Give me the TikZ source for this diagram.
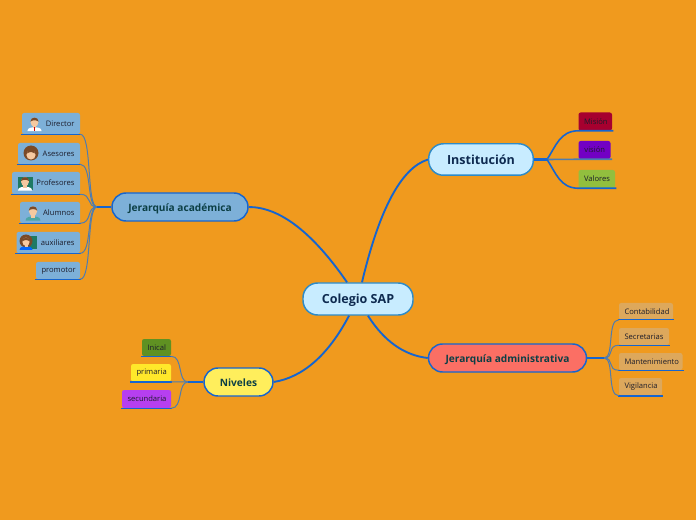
\documentclass[tikz,border=0pt]{standalone}
\usepackage{fontspec}
\setmainfont{Open Sans}
\definecolor{bg}{HTML}{F09A1E}
\definecolor{lineblue}{HTML}{1565D0}
\definecolor{thinline}{HTML}{4E7CB0}
\definecolor{rootfill}{HTML}{C8ECFF}
\definecolor{rootedge}{HTML}{2E8BC8}
\definecolor{acadfill}{HTML}{7DB0D8}
\definecolor{admfill}{HTML}{FB6F64}
\definecolor{nivfill}{HTML}{FFEE5C}
\definecolor{darktext}{HTML}{0E2A50}
\definecolor{greentext}{HTML}{0C3F45}
\definecolor{kidtext}{HTML}{1C1C2A}
\definecolor{misfill}{HTML}{A6002F}
\definecolor{visfill}{HTML}{7200C4}
\definecolor{valfill}{HTML}{92BF3E}
\definecolor{tanfill}{HTML}{DDA85C}
\definecolor{inifill}{HTML}{5F9122}
\definecolor{prifill}{HTML}{FFE82A}
\definecolor{secfill}{HTML}{B63FF0}
\definecolor{skin}{HTML}{F6C9A0}
\definecolor{hairb}{HTML}{7A4A28}
\definecolor{board}{HTML}{1F7A64}
\tikzset{
  mainbox/.style={draw=lineblue,line width=1.1pt,rounded corners=10.5pt,inner sep=0pt,font=\bfseries\fontsize{7.6pt}{10pt}\selectfont,text=greentext,text height=7pt,text depth=0.2pt},
  rootbox/.style={mainbox,draw=rootedge,fill=rootfill,rounded corners=11pt,text=darktext,font=\bfseries\fontsize{9.4pt}{11pt}\selectfont,text height=7.1pt,text depth=0.3pt},
  kidbox/.style={rounded corners=1.6pt,inner sep=0pt,font=\fontsize{5.7pt}{7pt}\selectfont,text=kidtext,align=right},
  under/.style={draw=lineblue,line width=1.1pt},
  thinunder/.style={draw=lineblue,line width=.8pt},
  big/.style={draw=lineblue,line width=1.4pt},
  twig/.style={draw=thinline,line width=.75pt},
  stem/.style={draw=lineblue,line width=.9pt},
}
% name, x1, y1, x2, y2, fill, text
\newcommand\kid[7]{%
  \pgfmathsetmacro\kw{(#4-#2)*0.75}%
  \pgfmathsetmacro\kh{(#5-#3)*0.75}%
  \pgfmathsetmacro\kt{(#4-#2-11)*0.75}%
  \node[kidbox,fill=#6,minimum width=\kw pt,minimum height=\kh pt,text width=\kt pt] (#1) at ({(#2+#4)/2},{(#3+#5)/2}) {#7};%
}
% man / woman heads
\newcommand\facehead[6]{% x y scale skin hair shirt
  \begin{scope}[shift={(#1,#2)},x=#3*0.75pt,y=-#3*0.75pt]
    \fill[#6] (-6.5,7) .. controls (-6.5,3.5) and (-2,3.5) .. (0,3.5) .. controls (2,3.5) and (6.5,3.5) .. (6.5,7) -- cycle;
    \fill[#4] (-1.5,1.5) rectangle (1.5,4.4);
    \fill[#4] (0,-1.2) ellipse [x radius=3.6,y radius=4.2];
    \fill[#5] (-3.7,-1.6) .. controls (-4,-6.6) and (4,-6.6) .. (3.7,-1.6) .. controls (2,-3.4) and (-2,-3.4) .. (-3.7,-1.6) -- cycle;
  \end{scope}}
\begin{document}
\begin{tikzpicture}[x=0.75pt,y=-0.75pt]
\useasboundingbox (0,0) rectangle (696,520);
\fill[bg] (0,0) rectangle (696,520);

% main nodes
\node[rootbox,minimum width=82.5pt,minimum height=24pt] (root) at (358,299) {Colegio SAP};
\node[rootbox,minimum width=78.4pt,minimum height=23.6pt] (inst) at (481,159.5) {Institución};
\node[mainbox,fill=acadfill,minimum width=102pt,minimum height=21pt] (acad) at (180,207) {Jerarquía académica};
\node[mainbox,fill=admfill,minimum width=118.5pt,minimum height=21pt] (adm) at (507.5,358) {Jerarquía administrativa};
\node[mainbox,fill=nivfill,minimum width=51.7pt,minimum height=21pt] (niv) at (238.5,382) {Niveles};

% junctions
\coordinate (ji) at (547,159.5);
\coordinate (ja) at (97,207);
\coordinate (jd) at (604,358);
\coordinate (jn) at (188,382);

% main connectors
\draw[big] ([xshift=3pt]root.north) .. controls (379.3,209.3) and (401.3,167.7) .. (inst.west);
\draw[big] ([xshift=-8.25pt]root.north) .. controls (313,233) and (280,207) .. (acad.east);
\draw[big] ([xshift=-6.75pt]root.south) .. controls (328.3,355) and (303,377.3) .. (niv.east);
\draw[big] ([xshift=7.5pt]root.south) .. controls (384,341) and (404,355.3) .. (adm.west);

% Institucion children
\kid{mis}{578.5}{112.5}{612}{130.5}{misfill}{Misión}
\kid{vis}{578.5}{141}{610.5}{159}{visfill}{visión}
\kid{val}{578.5}{170}{615}{188}{valfill}{Valores}
\draw[draw=lineblue,line width=2.2pt] (inst.east) -- (ji);
\draw[big,line width=1.2pt] (ji) .. controls (556,146) and (560,131) .. (mis.south west) -- ([xshift=.75pt]mis.south east);
\draw[big,line width=1.2pt,draw=thinline] (ji) -- (vis.south west) -- ([xshift=1pt]vis.south east);
\draw[big,line width=1.2pt] (ji) .. controls (556,173) and (560,188) .. (val.south west) -- ([xshift=.75pt]val.south east);

% Academic children
\kid{dir}{22}{113}{80}{134}{acadfill}{Director}
\kid{ase}{18}{143}{80}{164}{acadfill}{Asesores}
\kid{pro}{12}{172}{80}{194}{acadfill}{Profesores}
\kid{alu}{20}{202}{80}{223}{acadfill}{Alumnos}
\kid{aux}{16.5}{232}{80}{253}{acadfill}{auxiliares}
\kid{prm}{36}{262}{80}{279}{acadfill}{promotor}
\foreach \k/\st in {dir/under,ase/under,pro/under,alu/thinunder,aux/under,prm/thinunder}{
  \draw[\st] ([xshift=-.6pt]\k.south west) -- ([xshift=.6pt]\k.south east);
  \draw[twig] (\k.south east) .. controls +(9pt,0pt) and ([xshift=-8pt]ja) .. (ja);
}
\draw[stem] (ja) -- (acad.west);

% Admin children
\kid{con}{619}{303}{673}{319.5}{tanfill}{Contabilidad}
\kid{sec}{619}{328}{669}{345}{tanfill}{Secretarias}
\kid{man}{619}{353}{682.5}{370}{tanfill}{Mantenimiento}
\kid{vig}{619}{378}{662}{395.5}{tanfill}{Vigilancia}
\foreach \k in {con,sec,man,vig}{
  \draw[under] ([xshift=-.6pt]\k.south west) -- ([xshift=.6pt]\k.south east);
  \draw[twig] (\k.south west) .. controls +(-9pt,0pt) and ([xshift=8pt]jd) .. (jd);
}
\draw[stem] (adm.east) -- (jd);

% Niveles children
\kid{ini}{142}{339}{171}{356}{inifill}{Inical}
\kid{pri}{131}{364}{171}{381.5}{prifill}{primaria}
\kid{sct}{122}{390}{171}{408}{secfill}{secundaria}
\foreach \k in {ini,pri,sct}{
  \draw[under] ([xshift=-.6pt]\k.south west) -- ([xshift=.6pt]\k.south east);
  \draw[twig] (\k.south east) .. controls +(9pt,0pt) and ([xshift=-8pt]jn) .. (jn);
}
\draw[stem] (jn) -- (niv.west);

% icons
\facehead{34.5}{123.5}{1.1}{skin}{hairb}{white}
\fill[red!80!black] (34,127.5) rectangle (35,131);
\fill[hairb] (31,153) circle [radius=7.5];
\fill[skin] (31,155) circle [radius=4.6];
\fill[hairb] (26.8,153.5) .. controls (28,148.5) and (34,148.5) .. (35.2,153.5) .. controls (33,151.5) and (30,151.5) .. (26.8,153.5) -- cycle;
\fill[board] (17.5,177) rectangle (33,190);
\facehead{25}{183}{1.1}{skin}{hairb}{white}
\facehead{33}{212.5}{1.15}{skin}{hairb}{teal!70!white}
\fill[board] (24,236) rectangle (37,249);
\fill[hairb] (26,241) circle [radius=6.5];
\facehead{26}{243}{1}{skin}{hairb}{blue!60!cyan}
\end{tikzpicture}
\end{document}
